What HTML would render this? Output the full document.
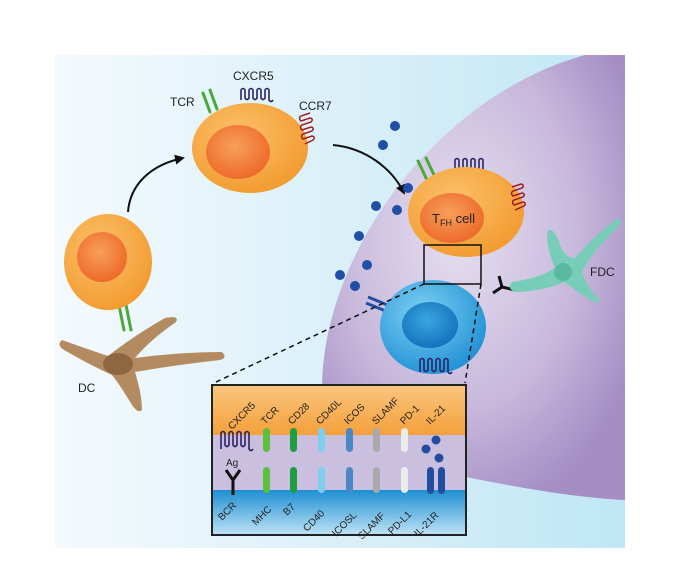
<!DOCTYPE html>
<html><head><meta charset="utf-8"><style>body{margin:0;background:#fff}svg{display:block}text{font-family:"Liberation Sans",sans-serif}</style></head><body>
<svg width="685" height="566" viewBox="0 0 685 566" xmlns="http://www.w3.org/2000/svg">
<defs>
<linearGradient id="bg" x1="0" y1="0" x2="1" y2="0"><stop offset="0" stop-color="#f4fafd"/><stop offset="0.6" stop-color="#d5eef8"/><stop offset="1" stop-color="#bfe6f5"/></linearGradient>
<radialGradient id="pu" cx="0.45" cy="0.4" r="0.65"><stop offset="0" stop-color="#e6dff0"/><stop offset="0.6" stop-color="#c8b9dc"/><stop offset="1" stop-color="#a48ec4"/></radialGradient>
<radialGradient id="or" cx="0.4" cy="0.35" r="0.7"><stop offset="0" stop-color="#fbc06a"/><stop offset="1" stop-color="#f29a2e"/></radialGradient>
<radialGradient id="nu" cx="0.45" cy="0.4" r="0.6"><stop offset="0" stop-color="#f7a05a"/><stop offset="1" stop-color="#ee6a2a"/></radialGradient>
<radialGradient id="bl" cx="0.4" cy="0.35" r="0.7"><stop offset="0" stop-color="#7fd0f2"/><stop offset="1" stop-color="#1d8fd4"/></radialGradient>
<radialGradient id="bn" cx="0.45" cy="0.4" r="0.6"><stop offset="0" stop-color="#3aa6df"/><stop offset="1" stop-color="#1473bd"/></radialGradient>
<linearGradient id="io" x1="0" y1="0" x2="0" y2="1"><stop offset="0" stop-color="#fbc680"/><stop offset="1" stop-color="#f4a03a"/></linearGradient>
<linearGradient id="ib" x1="0" y1="0" x2="0" y2="1"><stop offset="0" stop-color="#1e8fd2"/><stop offset="1" stop-color="#bfe3f6"/></linearGradient>
<marker id="ah" viewBox="0 0 10 10" refX="8" refY="5" markerWidth="5" markerHeight="5" orient="auto"><path d="M0,0 L10,5 L0,10 Z" fill="#111"/></marker>
<clipPath id="pc"><rect x="55" y="55" width="570" height="493"/></clipPath>
</defs>
<rect x="55" y="55" width="570" height="493" fill="url(#bg)"/>
<g clip-path="url(#pc)">
<path d="M585 55 C440 95 322 250 322 390 C322 440 340 462 380 470 C420 476 445 474 466 477 C520 488 580 498 625 500 L625 55 Z" fill="url(#pu)"/>
</g>
<path d="M128 212 C130 185 150 165 183 158" fill="none" stroke="#111" stroke-width="2" marker-end="url(#ah)"/>
<path d="M333 145 C365 148 392 168 404 193" fill="none" stroke="#111" stroke-width="2" marker-end="url(#ah)"/>
<path d="M62 340 Q90 350 108 356 Q135 335 165 318 Q180 315 176 322 Q150 340 135 358 Q180 352 222 352 Q228 358 220 360 Q175 365 135 372 Q142 395 142 410 Q138 414 132 405 Q120 385 112 375 Q90 365 64 350 Q56 345 62 340 Z" fill="#b48a60"/>
<ellipse cx="118" cy="364" rx="15" ry="11" fill="#8e6740"/>
<text x="78" y="392" font-size="12" fill="#222">DC</text>
<line x1="119" y1="305" x2="124" y2="330" stroke="#4aa83a" stroke-width="3" stroke-linecap="round"/>
<line x1="126" y1="305" x2="131" y2="330" stroke="#4aa83a" stroke-width="3" stroke-linecap="round"/>
<ellipse cx="108" cy="262" rx="44" ry="48" fill="url(#or)"/>
<circle cx="102" cy="257" r="25" fill="url(#nu)"/>
<line x1="203" y1="93" x2="210" y2="112" stroke="#4aa83a" stroke-width="3" stroke-linecap="round"/>
<line x1="210" y1="90" x2="217" y2="109" stroke="#4aa83a" stroke-width="3" stroke-linecap="round"/>
<path d="M241 100 L241 90 Q243 87 245 90 L245 98 Q247 101 249 98 L249 90 Q251 87 253 90 L253 98 Q255 101 257 98 L257 90 Q259 87 261 90 L261 98 Q263 101 265 98 L265 90 Q267 87 269 90 L269 100 Q271 103 273 100" fill="none" stroke="#2a2466" stroke-width="1.6"/>
<ellipse cx="250" cy="148" rx="58" ry="45" fill="url(#or)"/>
<ellipse cx="238" cy="152" rx="32" ry="27" fill="url(#nu)"/>
<path d="M305 144 L313 140 Q316 137 312 136 L303 139 Q300 136 303 134 L312 131 Q315 128 311 127 L302 130 Q299 127 302 125 L311 122 Q314 119 310 118 L301 121 Q298 118 301 116 L310 113" fill="none" stroke="#a01c20" stroke-width="1.5"/>
<text x="233" y="80" font-size="12" fill="#222">CXCR5</text>
<text x="170" y="106" font-size="12" fill="#222">TCR</text>
<text x="299" y="110" font-size="12" fill="#222">CCR7</text>
<g fill="#1f4fa6">
<circle cx="395" cy="126" r="5"/><circle cx="383" cy="145" r="5"/><circle cx="408" cy="188" r="5"/><circle cx="376" cy="206" r="5"/><circle cx="397" cy="210" r="5"/><circle cx="359" cy="236" r="5"/><circle cx="367" cy="265" r="5"/><circle cx="340" cy="275" r="5"/><circle cx="355" cy="286" r="5"/>
</g>
<line x1="418" y1="161" x2="427" y2="180" stroke="#4aa83a" stroke-width="3" stroke-linecap="round"/>
<line x1="426" y1="158" x2="435" y2="177" stroke="#4aa83a" stroke-width="3" stroke-linecap="round"/>
<path d="M455 172 L455 160 Q457 157 459 160 L459 170 Q461 173 463 170 L463 160 Q465 157 467 160 L467 170 Q469 173 471 170 L471 160 Q473 157 475 160 L475 170 Q477 173 479 170 L479 160 Q481 157 483 160 L483 172 Q485 175 487 172" fill="none" stroke="#2a2466" stroke-width="1.6"/>
<ellipse cx="466" cy="212" rx="58" ry="45" fill="url(#or)"/>
<ellipse cx="452" cy="218" rx="32" ry="25" fill="url(#nu)"/>
<path d="M515 210 L524 206 Q527 203 523 202 L514 205 Q511 202 514 200 L523 197 Q526 194 522 193 L513 196 Q510 193 513 191 L522 188 Q525 185 521 184 L512 187" fill="none" stroke="#a01c20" stroke-width="1.5"/>
<text x="432" y="223" font-size="13" fill="#222">T<tspan font-size="9" dy="3">FH</tspan><tspan dy="-3"> cell</tspan></text>
<line x1="368" y1="297" x2="390" y2="306" stroke="#1f4fa6" stroke-width="3"/>
<line x1="366" y1="303" x2="388" y2="312" stroke="#1f4fa6" stroke-width="3"/>
<ellipse cx="433" cy="327" rx="53" ry="47" fill="url(#bl)"/>
<ellipse cx="430" cy="325" rx="28" ry="23" fill="url(#bn)"/>
<path d="M420 372 L420 360 Q422 357 424 360 L424 370 Q426 373 428 370 L428 360 Q430 357 432 360 L432 370 Q434 373 436 370 L436 360 Q438 357 440 360 L440 370 Q442 373 444 370 L444 360 Q446 357 448 360 L448 372 Q450 375 452 372" fill="none" stroke="#2a2466" stroke-width="1.6"/>
<path d="M493 293 L502 287 L499 276 M502 287 L515 290" fill="none" stroke="#111" stroke-width="3"/>
<path d="M512 282 Q540 278 555 268 Q545 245 548 230 Q555 228 560 245 Q565 258 575 258 Q595 235 618 218 Q624 222 615 230 Q592 252 582 272 Q588 290 600 300 Q598 305 590 300 Q575 290 565 282 Q540 292 515 292 Q506 288 512 282 Z" fill="#78cdb9"/>
<circle cx="563" cy="272" r="9" fill="#5bb8a2"/>
<text x="590" y="276" font-size="12" fill="#222">FDC</text>
<rect x="424" y="245" width="57" height="39" fill="none" stroke="#111" stroke-width="1.5"/>
<line x1="424" y1="284" x2="214" y2="383" stroke="#111" stroke-width="1.5" stroke-dasharray="5,4"/>
<line x1="481" y1="284" x2="465" y2="383" stroke="#111" stroke-width="1.5" stroke-dasharray="5,4"/>
<rect x="212" y="385" width="254" height="50" fill="url(#io)"/>
<rect x="212" y="435" width="254" height="55" fill="#cbbfe0"/>
<rect x="212" y="490" width="254" height="45" fill="url(#ib)"/>
<rect x="212" y="385" width="254" height="150" fill="none" stroke="#222" stroke-width="2"/>
<path d="M221 449 L221 433 Q223 430 225 433 L225 445 Q227 448 229 445 L229 433 Q231 430 233 433 L233 445 Q235 448 237 445 L237 433 Q239 430 241 433 L241 445 Q243 448 245 445 L245 433 Q247 430 249 433 L249 449 Q251 452 253 449" fill="none" stroke="#2a2466" stroke-width="1.6"/>
<path d="M226 470 L233 480 L240 470 M233 480 L233 495" fill="none" stroke="#111" stroke-width="3"/>
<text x="226" y="466" font-size="10" fill="#222">Ag</text>
<g>
<rect x="263" y="428" width="7" height="24" rx="3.5" fill="#5cbf3e"/><rect x="263" y="467" width="7" height="26" rx="3.5" fill="#5cbf3e"/>
<rect x="290" y="428" width="7" height="24" rx="3.5" fill="#1e9e40"/><rect x="290" y="467" width="7" height="26" rx="3.5" fill="#1e9e40"/>
<rect x="318" y="428" width="7" height="24" rx="3.5" fill="#7fcdf0"/><rect x="318" y="467" width="7" height="26" rx="3.5" fill="#7fcdf0"/>
<rect x="346" y="428" width="7" height="24" rx="3.5" fill="#4a86c8"/><rect x="346" y="467" width="7" height="26" rx="3.5" fill="#4a86c8"/>
<rect x="373" y="428" width="7" height="24" rx="3.5" fill="#a8a8ae"/><rect x="373" y="467" width="7" height="26" rx="3.5" fill="#a8a8ae"/>
<rect x="401" y="428" width="7" height="24" rx="3.5" fill="#ececec"/><rect x="401" y="467" width="7" height="26" rx="3.5" fill="#ececec"/>
<rect x="427" y="467" width="7" height="27" rx="3.5" fill="#234ea0"/><rect x="438" y="467" width="7" height="27" rx="3.5" fill="#234ea0"/>
<circle cx="436" cy="440" r="4.5" fill="#234ea0"/><circle cx="426" cy="449" r="4.5" fill="#234ea0"/><circle cx="439" cy="458" r="4.5" fill="#234ea0"/>
</g>
<g font-size="10" fill="#222">
<text transform="translate(232,430) rotate(-45)">CXCR5</text>
<text transform="translate(265,425) rotate(-45)">TCR</text>
<text transform="translate(292,425) rotate(-45)">CD28</text>
<text transform="translate(320,425) rotate(-45)">CD40L</text>
<text transform="translate(348,425) rotate(-45)">ICOS</text>
<text transform="translate(376,425) rotate(-45)">SLAMF</text>
<text transform="translate(404,425) rotate(-45)">PD-1</text>
<text transform="translate(430,425) rotate(-45)">IL-21</text>
<text transform="translate(222,521) rotate(-45)">BCR</text>
<text transform="translate(256,526) rotate(-45)">MHC</text>
<text transform="translate(287,516) rotate(-45)">B7</text>
<text transform="translate(307,532) rotate(-45)">CD40</text>
<text transform="translate(336,537) rotate(-45)">ICOSL</text>
<text transform="translate(362,540) rotate(-45)">SLAMF</text>
<text transform="translate(392,535) rotate(-45)">PD-L1</text>
<text transform="translate(418,537) rotate(-45)">IL-21R</text>
</g>
</svg>
</body></html>
